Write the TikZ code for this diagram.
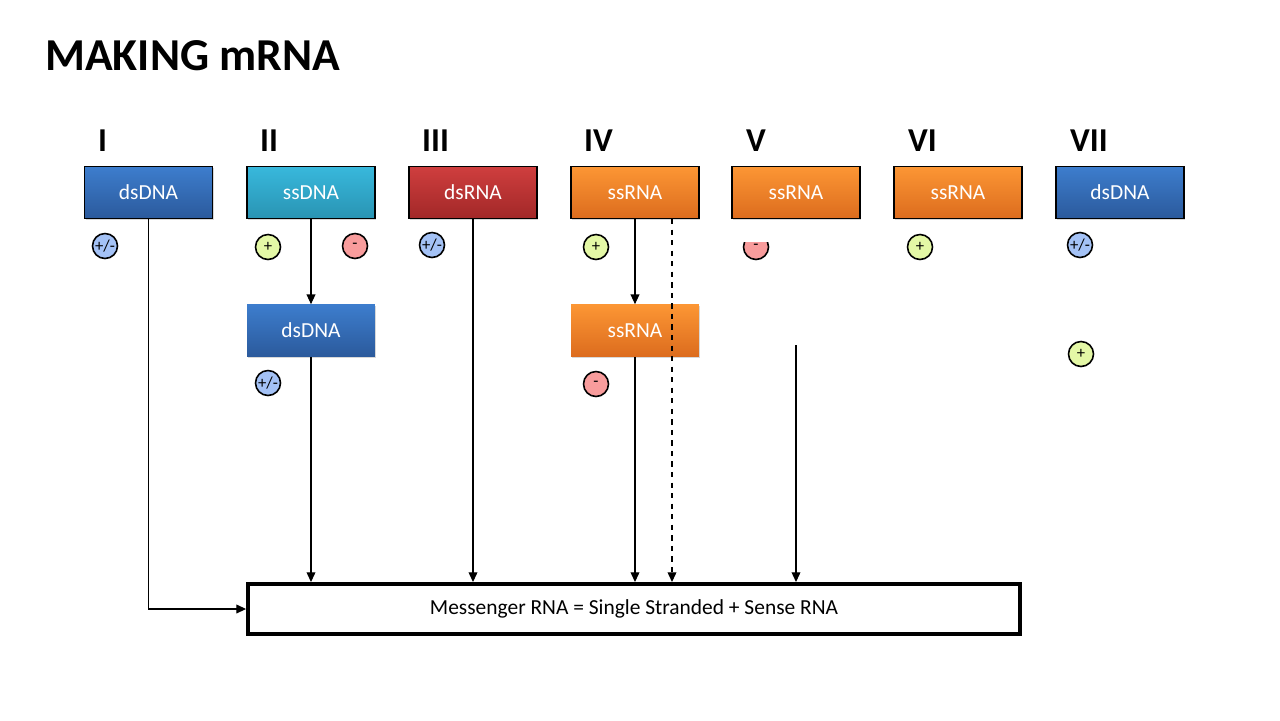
\documentclass[tikz,border=0pt]{standalone}
\usepackage{fontspec}
\setmainfont{Carlito}
\usetikzlibrary{arrows.meta, shadows}

\definecolor{dsdnaTop}{HTML}{3D7DCD}
\definecolor{dsdnaBot}{HTML}{2B5A9C}
\definecolor{ssdnaTop}{HTML}{38B8DC}
\definecolor{ssdnaBot}{HTML}{2994B3}
\definecolor{dsrnaTop}{HTML}{CF3E3E}
\definecolor{dsrnaBot}{HTML}{A22828}
\definecolor{ssrnaTop}{HTML}{FC9634}
\definecolor{ssrnaBot}{HTML}{DC6C1E}
\definecolor{pmFill}{HTML}{A4C2F6}
\definecolor{plusFill}{HTML}{E4F8A6}
\definecolor{minusFill}{HTML}{F89C9C}

\begin{document}
\begin{tikzpicture}[x=0.02cm, y=-0.02cm,
    genome/.style={minimum width=2.56cm, minimum height=1.04cm, text=white,
        font=\fontsize{12.2}{14}\selectfont,
        drop shadow={opacity=0.3, shadow xshift=0.8pt, shadow yshift=-1pt}},
    framed/.style={genome, draw=black, line width=1.1pt},
    dsdna/.style={top color=dsdnaTop, bottom color=dsdnaBot},
    ssdna/.style={top color=ssdnaTop, bottom color=ssdnaBot},
    dsrna/.style={top color=dsrnaTop, bottom color=dsrnaBot},
    ssrna/.style={top color=ssrnaTop, bottom color=ssrnaBot},
    sense/.style={draw, circle, line width=0.9pt, minimum size=0.5cm, inner sep=0pt,
        font=\fontsize{9.5}{10}\selectfont},
    pm/.style={sense, fill=pmFill},
    plus/.style={sense, fill=plusFill},
    minus/.style={sense, fill=minusFill},
    klass/.style={anchor=base west, font=\bfseries\fontsize{19}{22}\selectfont},
    flow/.style={line width=0.6pt, -{Triangle[length=5.5pt, width=5pt]}}]

    % Page
    \fill[white] (0,0) rectangle (1280,720);
    \node[anchor=base west, font=\bfseries\fontsize{26}{30}\selectfont] (title) at (39,70) {MAKING mRNA};

    % Baltimore classes
    \foreach \num/\x in {I/92, II/254, III/416, IV/578, V/740, VI/902, VII/1064} {
        \node[klass] (lbl\num) at (\x,151) {\num};
    }

    % Genome boxes (top row)
    \node[framed, dsdna] (I)   at (148.5,192.5) {dsDNA};
    \node[framed, ssdna] (II)  at (311,192.5) {ssDNA};
    \node[framed, dsrna] (III) at (473,192.5) {dsRNA};
    \node[framed, ssrna] (IV)  at (635,192.5) {ssRNA};
    \node[framed, ssrna] (V)   at (796,192.5) {ssRNA};
    \node[framed, ssrna] (VI)  at (958,192.5) {ssRNA};
    \node[framed, dsdna] (VII) at (1120,192.5) {dsDNA};

    % Intermediates
    \node[genome, dsdna] (II2) at (311,330.5) {dsDNA};
    \node[genome, ssrna] (IV2) at (635,330.5) {ssRNA};

    % Sense markers
    \node[pm]    (sI)    at (105,246) {+/-};
    \node[plus]  (sIIa)  at (268,247) {+};
    \node[minus] (sIIb)  at (355,246) {-};
    \node[pm]    (sIII)  at (432,245) {+/-};
    \node[plus]  (sIV)   at (596,247) {+};
    \begin{scope}
        \clip (725,242) rectangle (790,275);
        \node[minus] (sV) at (756,247) {-};
    \end{scope}
    \node[plus]  (sVI)   at (920,247) {+};
    \node[pm]    (sVII)  at (1080,245) {+/-};
    \node[plus]  (sVIIb) at (1081,354) {+};
    \node[pm]    (sII2)  at (268,383) {+/-};
    \node[minus] (sIV2)  at (596,384) {-};

    % Messenger RNA
    \node[draw, line width=2.3pt, minimum width=15.44cm, minimum height=1.0cm,
        font=\fontsize{12.2}{14}\selectfont] (mrna) at (634,609)
        {Messenger RNA = Single Stranded + Sense RNA};

    % Pathways
    \coordinate (ivdash) at (672,219);
    \coordinate (vtail) at (796,345);
    \draw[flow] (I.south) |- (mrna.west);
    \draw[flow] (II.south) -- (II2.north);
    \draw[flow] (II2.south) -- (II2.south |- mrna.north);
    \draw[flow] (III.south) -- (III.south |- mrna.north);
    \draw[flow] (IV.south) -- (IV2.north);
    \draw[flow] (IV2.south) -- (IV2.south |- mrna.north);
    \draw[flow, dashed] (ivdash) -- (ivdash |- mrna.north);
    \draw[flow] (vtail) -- (vtail |- mrna.north);
\end{tikzpicture}
\end{document}
